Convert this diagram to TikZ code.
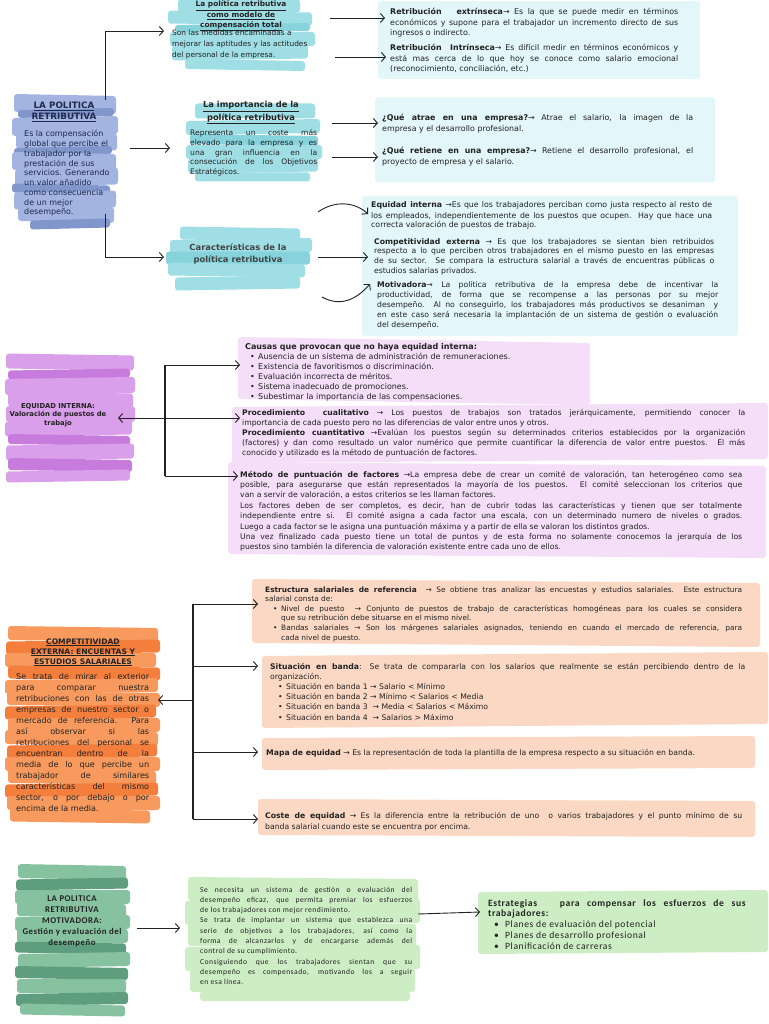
\documentclass[tikz,border=0pt]{standalone}
\usepackage{fontspec}
\setmainfont{DejaVu Sans}
\newfontfamily\arfont{DejaVu Sans}
\newfontfamily\cond{Carlito}[LetterSpace=6]
\usetikzlibrary{arrows.meta}
\definecolor{ink}{HTML}{222222}
\definecolor{navy}{HTML}{1F2A4D}
\definecolor{blueA}{HTML}{A3B4E0}
\definecolor{blueB}{HTML}{8197CC}
\definecolor{tealA}{HTML}{A0DEE5}
\definecolor{tealB}{HTML}{86D3DC}
\definecolor{cyanL}{HTML}{E3F6F9}
\definecolor{vioA}{HTML}{DA9FEB}
\definecolor{vioB}{HTML}{C77CDD}
\definecolor{vioL}{HTML}{F4DEF8}
\definecolor{orA}{HTML}{F89A5E}
\definecolor{orB}{HTML}{F47F3C}
\definecolor{peach}{HTML}{FBD8C3}
\definecolor{grA}{HTML}{86C2A0}
\definecolor{grB}{HTML}{5E9E7E}
\definecolor{grL}{HTML}{CDEEC4}
\newcommand\ar{{\arfont →}}
\newcommand\jl[1]{\hbox to\hsize{\strut#1}}
\newcommand\rl[1]{\hbox{\strut#1}}
\newcommand\cl[1]{\hbox to\hsize{\strut\hfil#1\hfil}}
\newcommand\bul{\makebox[8pt][l]{\textbullet}}
\newcommand\fs[2]{\fontsize{#1}{#2}\selectfont}
\newcommand\brush[6]{\fill[#1,rounded corners=3pt] (#2,#4-#5/2+#6) -- (#3,#4-#5/2-#6) -- (#3,#4+#5/2-#6) -- (#2,#4+#5/2+#6) -- cycle;}
\begin{document}
\begin{tikzpicture}[x=1pt,y=-1pt,
  arr/.style={-{Straight Barb[length=4pt,width=9pt]},line width=0.9pt,ink},
  ln/.style={line width=1.1pt,ink},
  tx/.style={anchor=base west,inner sep=0pt,text=ink},
  ct/.style={anchor=base,inner sep=0pt,text=ink}]
\useasboundingbox (0,0) rectangle (768,1024);
\fill[white] (0,0) rectangle (768,1024);
% ---------- backgrounds ----------
% box 1
\brush{blueA}{14}{116}{104}{18}{-1}
\brush{blueB}{18}{114}{113}{8}{1}
\brush{blueA}{12}{118}{126}{18}{1}
\brush{blueA}{16}{117}{141}{17}{-1}
\brush{blueB}{14}{112}{151}{8}{1}
\brush{blueA}{12}{116}{162}{18}{-1}
\brush{blueA}{15}{118}{177}{17}{1}
\brush{blueB}{12}{110}{189}{9}{-1}
\brush{blueA}{14}{116}{200}{17}{1}
\brush{blueA}{18}{114}{214}{16}{-1}
\brush{blueB}{30}{110}{224}{9}{1}
% teal boxes
\brush{tealA}{178}{300}{6}{13}{0}
\brush{tealA}{168}{312}{18}{13}{-1}
\brush{tealB}{175}{310}{28}{8}{1}
\brush{tealA}{170}{315}{39}{14}{0}
\brush{tealA}{172}{308}{52}{15}{1}
\brush{tealA}{185}{305}{65}{10}{-1}
\brush{tealA}{195}{315}{111}{15}{0}
\brush{tealA}{186}{320}{127}{14}{1}
\brush{tealB}{190}{318}{140}{10}{-1}
\brush{tealA}{186}{322}{152}{14}{0}
\brush{tealA}{188}{318}{165}{15}{1}
\brush{tealA}{195}{310}{177}{9}{0}
\brush{tealA}{180}{300}{234}{13}{-1}
\brush{tealA}{170}{312}{246}{14}{1}
\brush{tealB}{166}{310}{258}{13}{0}
\brush{tealA}{168}{305}{270}{13}{-1}
\brush{tealA}{175}{300}{283}{13}{1}
% light cyan
\brush{cyanL}{378}{700}{40}{78}{0}
\brush{cyanL}{375}{715}{140}{85}{0}
\brush{cyanL}{362}{738}{266}{140}{0}
% violet box
\brush{vioA}{6}{134}{362}{15}{-1}
\brush{vioB}{8}{130}{374}{9}{1}
\brush{vioA}{5}{135}{386}{16}{1}
\brush{vioA}{8}{133}{400}{15}{-1}
\brush{vioA}{6}{135}{414}{16}{0}
\brush{vioA}{5}{132}{428}{15}{1}
\brush{vioB}{8}{130}{440}{10}{-1}
\brush{vioA}{6}{134}{452}{15}{1}
\brush{vioB}{8}{132}{465}{12}{-1}
\brush{vioA}{6}{130}{476}{11}{1}
% violet light
\brush{vioL}{238}{590}{371}{62}{-3}
\brush{vioL}{232}{768}{433}{56}{2}
\brush{vioL}{228}{766}{510}{92}{-2}
% orange box
\brush{orA}{8}{158}{634}{14}{-1}
\brush{orB}{6}{160}{647}{13}{1}
\brush{orA}{5}{156}{660}{14}{0}
\brush{orB}{8}{160}{673}{13}{-1}
\brush{orA}{5}{158}{686}{14}{1}
\brush{orA}{7}{160}{699}{14}{-1}
\brush{orB}{5}{156}{712}{13}{1}
\brush{orA}{8}{160}{725}{14}{0}
\brush{orA}{5}{158}{738}{14}{-1}
\brush{orB}{7}{157}{751}{13}{1}
\brush{orA}{5}{160}{764}{14}{0}
\brush{orA}{8}{156}{777}{14}{-1}
\brush{orB}{5}{158}{790}{13}{1}
\brush{orA}{7}{160}{803}{14}{0}
\brush{orA}{10}{150}{816}{13}{-1}
% peach
\brush{peach}{252}{760}{613}{64}{-2}
\brush{peach}{262}{768}{690}{72}{2}
\brush{peach}{262}{755}{753}{32}{1}
\brush{peach}{258}{755}{818}{36}{-1}
% green box
\brush{grA}{18}{126}{872}{14}{-1}
\brush{grB}{16}{128}{884}{11}{1}
\brush{grA}{15}{130}{897}{14}{0}
\brush{grA}{17}{126}{910}{14}{-1}
\brush{grA}{15}{130}{923}{14}{1}
\brush{grA}{17}{128}{936}{14}{0}
\brush{grB}{15}{126}{948}{11}{-1}
\brush{grA}{18}{130}{960}{14}{1}
\brush{grB}{15}{128}{973}{12}{-1}
\brush{grA}{17}{126}{986}{14}{0}
\brush{grB}{16}{128}{999}{12}{1}
\brush{grA}{20}{125}{1010}{11}{-1}
% light green
\brush{grL}{188}{418}{890}{24}{-1}
\brush{grL}{185}{420}{912}{24}{1}
\brush{grL}{188}{416}{935}{24}{-1}
\brush{grL}{185}{420}{958}{24}{1}
\brush{grL}{190}{415}{980}{24}{0}
\brush{grL}{200}{410}{996}{10}{0}
\brush{grL}{478}{768}{922}{62}{1}
% ---------- connectors ----------
\coordinate (v1a) at (105,100);
\coordinate (v1t) at (105,31);
\coordinate (k1) at (164,31);
\coordinate (m1s) at (130,148);
\coordinate (m1e) at (170,148);
\coordinate (v1b) at (105,214);
\coordinate (v1d) at (105,257);
\coordinate (k3) at (164,257);
\draw[arr] (v1a) -- (v1t) -- (k1);
\draw[arr] (m1s) -- (m1e);
\draw[arr] (v1b) -- (v1d) -- (k3);
\coordinate (a1s) at (330,18); \coordinate (a1e) at (385,18);
\coordinate (a2s) at (335,57); \coordinate (a2e) at (386,57);
\coordinate (a3s) at (332,123); \coordinate (a3e) at (378,123);
\coordinate (a4s) at (332,157); \coordinate (a4e) at (378,157);
\draw[arr] (a1s) -- (a1e);
\draw[arr] (a2s) -- (a2e);
\draw[arr] (a3s) -- (a3e);
\draw[arr] (a4s) -- (a4e);
\coordinate (c1s) at (318,212); \coordinate (c1e) at (368,214);
\coordinate (c2s) at (318,257); \coordinate (c2e) at (368,257);
\coordinate (c3s) at (322,297); \coordinate (c3e) at (370,284);
\draw[arr] (c1s) .. controls (335,200) and (355,202) .. (c1e);
\draw[arr] (c2s) -- (c2e);
\draw[arr] (c3s) .. controls (340,307) and (356,300) .. (c3e);
% section 2
\coordinate (p1) at (165,365); \coordinate (e1) at (240,365);
\coordinate (p2) at (165,418); \coordinate (e2) at (240,418); \coordinate (w2) at (118,418);
\coordinate (p3) at (165,476); \coordinate (e3) at (238,476);
\draw[ln] (p1) -- (p3);
\draw[arr] (p1) -- (e1);
\draw[arr] (p2) -- (e2);
\draw[arr] (p2) -- (w2);
\draw[arr] (p3) -- (e3);
% section 3
\coordinate (q1) at (193,604); \coordinate (f1) at (258,604);
\coordinate (q2) at (193,666); \coordinate (f2) at (258,666);
\coordinate (q0) at (193,700); \coordinate (f0) at (158,700);
\coordinate (q3) at (193,752); \coordinate (f3) at (258,752);
\coordinate (q4) at (193,819); \coordinate (f4) at (258,819);
\draw[ln] (q1) -- (q4);
\draw[arr] (q1) -- (f1);
\draw[arr] (q2) -- (f2);
\draw[arr] (q0) -- (f0);
\draw[arr] (q3) -- (f3);
\draw[arr] (q4) -- (f4);
% section 4
\coordinate (g1s) at (137,928); \coordinate (g1e) at (180,928);
\coordinate (g2s) at (418,914); \coordinate (g2e) at (480,912);
\draw[arr] (g1s) -- (g1e);
\draw[arr] (g2s) -- (g2e);
% ---------- texts ----------
\node[ct,text=navy,font=\fs{8.8}{11}\bfseries] (lp) at (64,109) {\vtop{\hsize=100pt\cl{\underline{LA POLITICA}}\cl{\underline{RETRIBUTIVA}}}};
\node[tx,text=navy,font=\fs{8}{9.75}] (lpb) at (24,137) {\vtop{\hsize=95pt
\rl{Es la compensación}\rl{global que percibe el}\rl{trabajador por la}\rl{prestación de sus}\rl{servicios. Generando}\rl{un valor añadido}\rl{como consecuencia}\rl{de un mejor}\rl{desempeño.}}};
\node[ct,font=\fs{7.4}{9.2}\bfseries] (mt) at (241,7) {\vtop{\hsize=150pt\cl{\underline{La política retributiva}}\cl{\underline{como modelo de}}\cl{\underline{compensación total}}}};
\node[tx,font=\fs{7.4}{10.8}] (mb) at (172,36) {\vtop{\hsize=150pt\rl{Son las medidas encaminadas a}\rl{mejorar las aptitudes y las actitudes}\rl{del personal de la empresa.}}};
\node[tx,font=\fs{7.9}{10.5}] (re) at (390,15) {\vtop{\hsize=288pt
\jl{\textbf{Retribución\ \ \ extrínseca}\ar{} Es la que se puede medir en términos}
\jl{económicos y supone para el trabajador un incremento directo de sus}
\rl{ingresos o indirecto.}}};
\node[tx,font=\fs{7.9}{10.5}] (ri) at (390,51) {\vtop{\hsize=288pt
\jl{\textbf{Retribución\ \ Intrínseca}\ar{} Es difícil medir en términos económicos y}
\jl{está mas cerca de lo que hoy se conoce como salario emocional}
\rl{(reconocimiento, conciliación, etc.)}}};
\node[ct,font=\fs{8.3}{11}\bfseries] (it) at (251,108) {\vtop{\hsize=150pt\cl{\underline{La importancia de la}}\cl{\underline{política retributiva}}}};
\node[tx,font=\fs{7.6}{9.6}] (ib) at (190,136) {\vtop{\hsize=127pt
\jl{Representa un coste más}\jl{elevado para la empresa y es}\jl{una gran influencia en la}\jl{consecución de los Objetivos}\rl{Estratégicos.}}};
\node[tx,font=\fs{7.9}{10.3}] (qa) at (382,121) {\vtop{\hsize=311pt
\jl{\textbf{¿Qué atrae en una empresa?}\ar{} Atrae el salario, la imagen de la}\rl{empresa y el desarrollo profesional.}}};
\node[tx,font=\fs{7.9}{10.3}] (qr) at (382,154) {\vtop{\hsize=311pt
\jl{\textbf{¿Qué retiene en una empresa?}\ar{} Retiene el desarrollo profesional, el}\rl{proyecto de empresa y el salario.}}};
\node[ct,text=ink!85,font=\fs{8.4}{12}\bfseries] (ca) at (238,251) {\vtop{\hsize=150pt\cl{Características de la}\cl{política retributiva}}};
\node[tx,font=\fs{7.8}{10}] (eq) at (371,208) {\vtop{\hsize=341pt
\jl{\textbf{Equidad interna} \ar{}Es que los trabajadores perciban como justa respecto al resto de}
\jl{los empleados, independientemente de los puestos que ocupen. Hay que hace una}
\rl{correcta valoración de puestos de trabajo.}}};
\node[tx,font=\fs{7.7}{9.7}] (ce) at (374,244) {\vtop{\hsize=340pt
\jl{\textbf{Competitividad externa} \ar{} Es que los trabajadores se sientan bien retribuidos}
\jl{respecto a lo que perciben otros trabajadores en el mismo puesto en las empresas}
\jl{de su sector. Se compara la estructura salarial a través de encuentras públicas o}
\rl{estudios salarias privados.}}};
\node[tx,font=\fs{7.7}{10}] (mo) at (377,287) {\vtop{\hsize=341pt
\jl{\textbf{Motivadora}\ar{} La política retributiva de la empresa debe de incentivar la}
\jl{productividad, de forma que se recompense a las personas por su mejor}
\jl{desempeño. Al no conseguirlo, los trabajadores más productivos se desaniman\ \ y}
\jl{en este caso será necesaria la implantación de un sistema de gestión o evaluación}
\rl{del desempeño.}}};
% section 2
\node[ct,font=\fs{6.8}{8.8}\bfseries] (ei) at (58,408) {\vtop{\hsize=125pt\cl{EQUIDAD INTERNA:}\cl{Valoración de puestos de}\cl{trabajo}}};
\node[tx,font=\fs{8}{10}] (cs) at (245,349) {\vtop{\hsize=350pt
\rl{\textbf{Causas que provocan que no haya equidad interna:}}
\rl{\kern5pt\bul Ausencia de un sistema de administración de remuneraciones.}
\rl{\kern5pt\bul Existencia de favoritismos o discriminación.}
\rl{\kern5pt\bul Evaluación incorrecta de méritos.}
\rl{\kern5pt\bul Sistema inadecuado de promociones.}
\rl{\kern5pt\bul Subestimar la importancia de las compensaciones.}}};
\node[tx,font=\fs{7.7}{10.2}] (pc) at (242,415) {\vtop{\hsize=503pt
\jl{\textbf{Procedimiento\ \ cualitativo} \ar{} Los puestos de trabajos son tratados jerárquicamente, permitiendo conocer la}
\rl{importancia de cada puesto pero no las diferencias de valor entre unos y otros.}
\jl{\textbf{Procedimiento cuantitativo} \ar{}Evalúan los puestos según su determinados criterios establecidos por la organización}
\jl{(factores) y dan como resultado un valor numérico que permite cuantificar la diferencia de valor entre puestos. El más}
\rl{conocido y utilizado es la método de puntuación de factores.}}};
\node[tx,font=\fs{7.7}{10.4}] (mp) at (240,477) {\vtop{\hsize=502pt
\jl{\textbf{Método de puntuación de factores} \ar{}La empresa debe de crear un comité de valoración, tan heterogéneo como sea}
\jl{posible, para asegurarse que están representados la mayoría de los puestos. El comité seleccionan los criterios que}
\rl{van a servir de valoración, a estos criterios se les llaman factores.}
\jl{Los factores deben de ser completos, es decir, han de cubrir todas las características y tienen que ser totalmente}
\jl{independiente entre si. El comité asigna a cada factor una escala, con un determinado numero de niveles o grados.}
\rl{Luego a cada factor se le asigna una puntuación máxima y a partir de ella se valoran los distintos grados.}
\jl{Una vez finalizado cada puesto tiene un total de puntos y de esta forma no solamente conocemos la jerarquía de los}
\rl{puestos sino también la diferencia de valoración existente entre cada uno de ellos.}}};
% section 3
\node[ct,font=\fs{7.6}{10}\bfseries] (ct) at (83,644) {\vtop{\hsize=150pt\cl{\underline{COMPETITIVIDAD}}\cl{\underline{EXTERNA: ENCUENTAS Y}}\cl{\underline{ESTUDIOS SALARIALES}}}};
\node[tx,font=\fs{8.1}{11}] (cb) at (16,679) {\vtop{\hsize=133pt
\jl{Se trata de mirar al exterior}\jl{para comparar nuestra}\jl{retribuciones con las de otras}\jl{empresas de nuestro sector o}\jl{mercado de referencia. Para}\jl{así observar si las}\jl{retribuciones del personal se}\jl{encuentran dentro de la}\jl{media de lo que percibe un}\jl{trabajador de similares}\jl{características del mismo}\jl{sector, o por debajo o por}\rl{encima de la media.}}};
\node[tx,font=\fs{7.4}{9.6}] (es) at (265,592) {\vtop{\hsize=477pt
\jl{\textbf{Estructura salariales de referencia}\ \ \ar{} Se obtiene tras analizar las encuestas y estudios salariales. Este estructura}
\rl{salarial consta de:}
\jl{\kern8pt\bul Nivel de puesto\ \ \ar{} Conjunto de puestos de trabajo de características homogéneas para los cuales se considera}
\rl{\kern16pt que su retribución debe situarse en el mismo nivel.}
\jl{\kern8pt\bul Bandas salariales \ar{} Son los márgenes salariales asignados, teniendo en cuando el mercado de referencia, para}
\rl{\kern16pt cada nivel de puesto.}}};
\node[tx,font=\fs{7.7}{10.2}] (sb) at (270,669) {\vtop{\hsize=475pt
\jl{\textbf{Situación en banda}: Se trata de compararla con los salarios que realmente se están percibiendo dentro de la}
\rl{organización.}
\rl{\kern8pt\bul Situación en banda 1 \ar{} Salario < Mínimo}
\rl{\kern8pt\bul Situación en banda 2 \ar{} Mínimo < Salarios < Media}
\rl{\kern8pt\bul Situación en banda 3\ \ \ar{} Media < Salarios < Máximo}
\rl{\kern8pt\bul Situación en banda 4\ \ \ar{} Salarios > Máximo}}};
\node[tx,font=\fs{7.7}{10.2}] (me) at (266,755) {\rl{\textbf{Mapa de equidad} \ar{} Es la representación de toda la plantilla de la empresa respecto a su situación en banda.}};
\node[tx,font=\fs{7.7}{11}] (co) at (265,818) {\vtop{\hsize=477pt
\jl{\textbf{Coste de equidad} \ar{} Es la diferencia entre la retribución de uno\ \ o varios trabajadores y el punto mínimo de su}
\rl{banda salarial cuando este se encuentra por encima.}}};
% section 4
\node[ct,font=\cond\fs{8.8}{11}\bfseries] (gt) at (72,901) {\vtop{\hsize=125pt\cl{LA POLITICA}\cl{RETRIBUTIVA}\cl{MOTIVADORA:}\cl{Gestión y evaluación del}\cl{desempeño}}};
\node[tx,font=\cond\fs{7.6}{10.3}] (gb) at (200,892) {\vtop{\hsize=212pt
\jl{Se necesita un sistema de gestión o evaluación del}
\jl{desempeño eficaz, que permita premiar los esfuerzos}
\rl{de los trabajadores con mejor rendimiento.}
\jl{Se trata de implantar un sistema que establezca una}
\jl{serie de objetivos a los trabajadores, así como la}
\jl{forma de alcanzarlos y de encargarse además del}
\rl{control de su cumplimiento.}
\jl{Consiguiendo que los trabajadores sientan que su}
\jl{desempeño es compensado, motivando los a seguir}
\rl{en esa línea.}}};
\node[tx,font=\cond\fs{9.6}{10.8}] (gs) at (488,906) {\vtop{\hsize=258pt
\jl{\textbf{Estrategias\ \ \ para compensar los esfuerzos de sus}}
\rl{\textbf{trabajadores:}}
\rl{\kern6pt\makebox[11pt][l]{\textbullet}Planes de evaluación del potencial}
\rl{\kern6pt\makebox[11pt][l]{\textbullet}Planes de desarrollo profesional}
\rl{\kern6pt\makebox[11pt][l]{\textbullet}Planificación de carreras}}};
\end{tikzpicture}
\end{document}
